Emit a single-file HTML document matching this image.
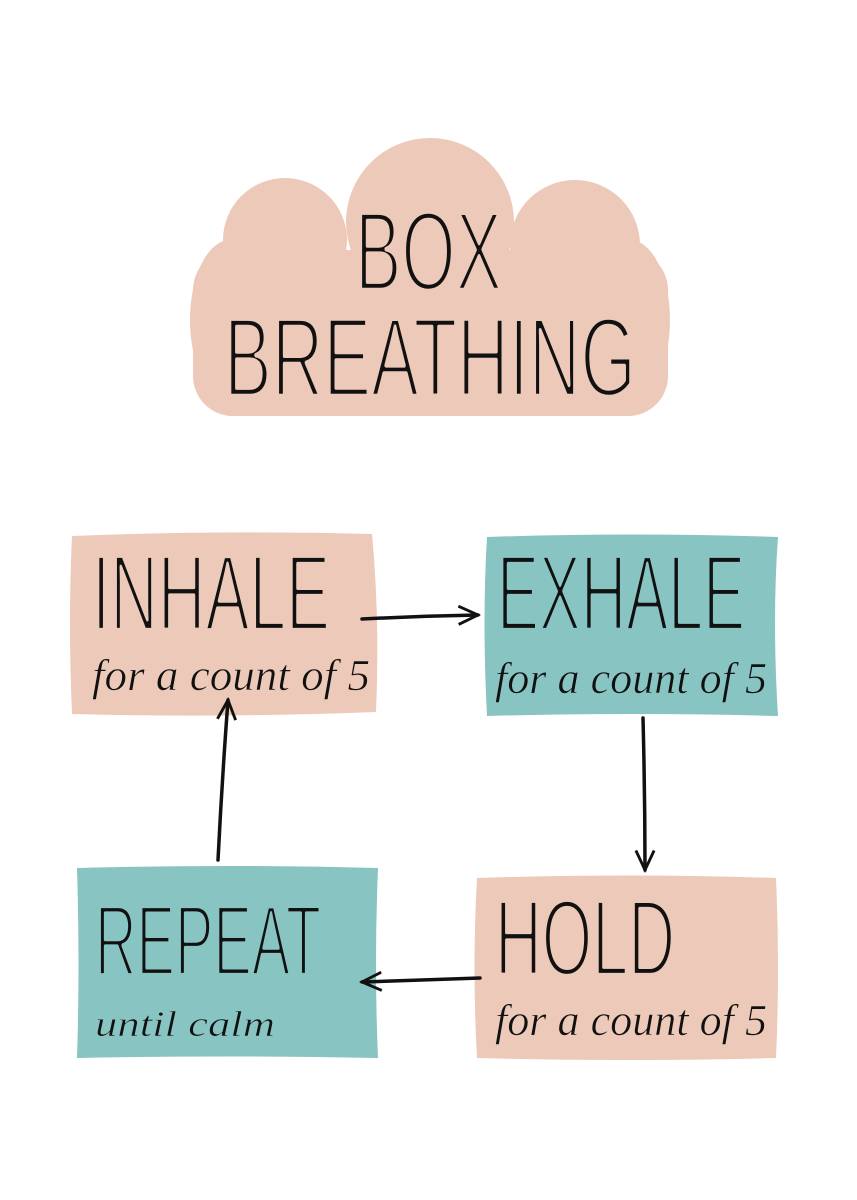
<!DOCTYPE html>
<html><head><meta charset="utf-8"><style>
html,body{margin:0;padding:0;background:#fff;}
svg{display:block}
.t{font-family:"Liberation Sans Narrow","Liberation Sans",sans-serif;font-weight:normal;fill:#111;stroke-linejoin:round;}
.c{font-family:"Liberation Serif",serif;font-style:italic;fill:#111;stroke-linejoin:round;}
.p{stroke:#ecc9b8}
.b{stroke:#88c4c2}
</style></head><body>
<svg width="857" height="1200" viewBox="0 0 857 1200" xmlns="http://www.w3.org/2000/svg">
<defs>
<marker id="a" viewBox="0 0 20 20" refX="18" refY="10" markerWidth="26" markerHeight="26" orient="auto" markerUnits="userSpaceOnUse"><path d="M3 3 L18 10 L3 17" fill="none" stroke="#111" stroke-width="2.2"/></marker>
</defs>
<!-- cloud -->
<g fill="#ecc9b8">
<rect x="193" y="250" width="475" height="166" rx="40"/>
<circle cx="285" cy="240" r="62"/>
<circle cx="430" cy="222" r="84"/>
<circle cx="575" cy="245" r="65"/>
<ellipse cx="630" cy="320" rx="40" ry="80"/>
<ellipse cx="230" cy="320" rx="40" ry="80"/>
</g>
<g stroke-width="4.5" class="p">
<text class="t" x="355" y="290" font-size="112" textLength="147" lengthAdjust="spacingAndGlyphs">BOX</text>
<text class="t" x="224" y="396" font-size="112" textLength="412" lengthAdjust="spacingAndGlyphs">BREATHING</text>
</g>
<!-- boxes -->
<path d="M72 536 Q220 530 372 534 Q380 620 376 712 Q220 718 72 714 Q68 620 72 536Z" fill="#ecc9b8"/>
<path d="M487 537 Q630 532 778 537 Q772 620 778 716 Q630 712 487 716 Q482 620 487 537Z" fill="#88c4c2"/>
<path d="M477 878 Q630 873 776 878 Q780 968 776 1058 Q630 1062 477 1058 Q472 968 477 878Z" fill="#ecc9b8"/>
<path d="M77 868 Q230 864 378 868 Q374 965 378 1058 Q230 1055 77 1058 Q80 965 77 868Z" fill="#88c4c2"/>
<g stroke-width="4.2">
<text class="t p" x="92" y="630" font-size="108" textLength="238" lengthAdjust="spacingAndGlyphs">INHALE</text>
<text class="t b" x="497" y="630" font-size="108" textLength="248" lengthAdjust="spacingAndGlyphs">EXHALE</text>
<text class="t p" x="495" y="975" font-size="108" textLength="180" lengthAdjust="spacingAndGlyphs">HOLD</text>
<text class="t b" x="95" y="975" font-size="100" textLength="226" lengthAdjust="spacingAndGlyphs">REPEAT</text>
</g>
<g stroke-width="0.6">
<text class="c p" x="92" y="690" font-size="44" textLength="278" lengthAdjust="spacingAndGlyphs">for a count of 5</text>
<text class="c b" x="495" y="693" font-size="44" textLength="272" lengthAdjust="spacingAndGlyphs">for a count of 5</text>
<text class="c p" x="495" y="1035" font-size="44" textLength="272" lengthAdjust="spacingAndGlyphs">for a count of 5</text>
<text class="c b" x="95" y="1036" font-size="36" textLength="180" lengthAdjust="spacingAndGlyphs">until calm</text>
</g>
<!-- arrows -->
<g stroke="#111" stroke-width="3.5" fill="none" stroke-linecap="round">
<path d="M362 619 Q420 616 478 615" marker-end="url(#a)"/>
<path d="M643 718 Q645 795 645 870" marker-end="url(#a)"/>
<path d="M480 978 Q420 980 362 982" marker-end="url(#a)"/>
<path d="M218 860 Q222 780 228 700" marker-end="url(#a)"/>
</g>
</svg>
</body></html>
